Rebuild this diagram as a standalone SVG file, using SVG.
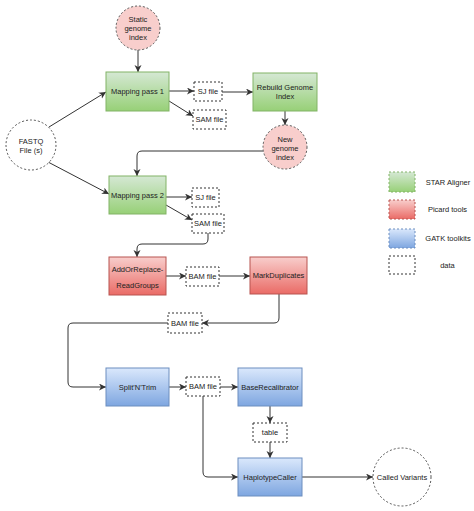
<svg xmlns="http://www.w3.org/2000/svg" width="474" height="511" viewBox="0 0 474 511">
<style>
text{font-family:"Liberation Sans",Arial,sans-serif;font-size:7.5px;fill:#222;text-anchor:middle;dominant-baseline:central}
.g{fill:url(#gg);stroke:#82b366;stroke-width:1}
.r{fill:url(#gr);stroke:#b85450;stroke-width:1}
.b{fill:url(#gb);stroke:#6c8ebf;stroke-width:1}
.d{fill:#fff;stroke:#333;stroke-width:1;stroke-dasharray:2,2}
.pc{fill:#f8cecc;stroke:#555;stroke-width:1;stroke-dasharray:2,2}
.wc{fill:#fff;stroke:#555;stroke-width:1;stroke-dasharray:2,2}
.c path{fill:none;stroke:#333;stroke-width:1;marker-end:url(#ah)}
.leg{stroke-dasharray:2,2}
</style>
<defs>
<linearGradient id="gg" x1="0" y1="0" x2="0" y2="1"><stop offset="0" stop-color="#d5e8d4"/><stop offset="1" stop-color="#97d077"/></linearGradient>
<linearGradient id="gr" x1="0" y1="0" x2="0" y2="1"><stop offset="0" stop-color="#f8cecc"/><stop offset="1" stop-color="#ea6b66"/></linearGradient>
<linearGradient id="gb" x1="0" y1="0" x2="0" y2="1"><stop offset="0" stop-color="#dae8fc"/><stop offset="1" stop-color="#7ea6e0"/></linearGradient>
<marker id="ah" markerUnits="userSpaceOnUse" markerWidth="8" markerHeight="8" refX="7" refY="3.5" orient="auto"><path d="M0,0 L7,3.5 L0,7 L2,3.5 z" fill="#333"/></marker>
</defs>
<rect width="474" height="511" fill="#fff"/>
<g class="c" id="connectors">
<path d="M138,50 V72"/>
<path d="M49,127 L106,92"/>
<path d="M48,162 L109,194"/>
<path d="M169,91 H194"/>
<path d="M169,101 L193,116"/>
<path d="M222,92 H253"/>
<path d="M285,111 V125"/>
<path d="M263,151 H142 Q137,151 137,156 V176"/>
<path d="M166,197 H192"/>
<path d="M166,205 L192,220"/>
<path d="M208,233 V239 Q208,244 203,244 H142 Q137,244 137,249 V257"/>
<path d="M166,276 H186"/>
<path d="M219,276 H250"/>
<path d="M279,294 V318 Q279,323 274,323 H202"/>
<path d="M168,323 H73 Q68,323 68,328 V382 Q68,387 73,387 H106"/>
<path d="M169,387 H186"/>
<path d="M220,387 H238"/>
<path d="M270,406 V423"/>
<path d="M270,442 V458"/>
<path d="M203,396 V472 Q203,477 208,477 H238"/>
<path d="M302,477 H373"/>
</g>
<g id="static-index"><circle class="pc" cx="138" cy="28" r="22"/><text x="138" y="19">Static</text><text x="138" y="28">genome</text><text x="138" y="37">index</text></g>
<g id="fastq"><circle class="wc" cx="31" cy="145" r="25"/><text x="31" y="141">FASTQ</text><text x="31" y="150">File (s)</text></g>
<g id="mapping1"><rect class="g" x="106" y="72" width="63" height="39"/><text x="137.5" y="91.5">Mapping pass 1</text></g>
<g id="sj1"><rect class="d" x="194" y="82" width="28" height="19"/><text x="208" y="91.5">SJ file</text></g>
<g id="sam1"><rect class="d" x="193" y="110" width="33" height="19"/><text x="209.5" y="119.5">SAM file</text></g>
<g id="rebuild"><rect class="g" x="253" y="73" width="64" height="38"/><text x="285" y="87">Rebuild Genome</text><text x="285" y="96">Index</text></g>
<g id="new-index"><circle class="pc" cx="285" cy="147" r="22"/><text x="285" y="139">New</text><text x="285" y="148">genome</text><text x="285" y="157">index</text></g>
<g id="mapping2"><rect class="g" x="109" y="176" width="57" height="38"/><text x="137.5" y="195">Mapping pass 2</text></g>
<g id="sj2"><rect class="d" x="192" y="188" width="27" height="19"/><text x="205.5" y="197.5">SJ file</text></g>
<g id="sam2"><rect class="d" x="192" y="214" width="32" height="19"/><text x="208" y="223.5">SAM file</text></g>
<g id="addorreplace"><rect class="r" x="109" y="257" width="57" height="38"/><text x="137.5" y="269">AddOrReplace-</text><text x="137.5" y="285">ReadGroups</text></g>
<g id="bam1"><rect class="d" x="186" y="267" width="33" height="19"/><text x="202.5" y="276.5">BAM file</text></g>
<g id="markdup"><rect class="r" x="250" y="257" width="57" height="37"/><text x="278.5" y="275.5">MarkDuplicates</text></g>
<g id="bam2"><rect class="d" x="168" y="313" width="34" height="20"/><text x="185" y="323">BAM file</text></g>
<g id="splitntrim"><rect class="b" x="106" y="368" width="63" height="38"/><text x="137.5" y="387">Split'N'Trim</text></g>
<g id="bam3"><rect class="d" x="186" y="377" width="34" height="19"/><text x="203" y="386.5">BAM file</text></g>
<g id="baserecal"><rect class="b" x="238" y="368" width="64" height="38"/><text x="270" y="387">BaseRecalibrator</text></g>
<g id="table"><rect class="d" x="253" y="423" width="34" height="19"/><text x="270" y="432.5">table</text></g>
<g id="haplotype"><rect class="b" x="238" y="458" width="64" height="38"/><text x="270" y="477">HaplotypeCaller</text></g>
<g id="called"><circle class="wc" cx="402" cy="477" r="29"/><text x="402" y="477">Called Variants</text></g>
<g id="legend">
<rect class="g leg" x="389" y="172" width="26" height="20"/><text x="448" y="182">STAR Aligner</text>
<rect class="r leg" x="389" y="200" width="26" height="19"/><text x="447.5" y="209.5">Picard tools</text>
<rect class="b leg" x="389" y="229" width="26" height="19"/><text x="448" y="238.5">GATK toolkits</text>
<rect class="d" x="389" y="256" width="26" height="18"/><text x="447.5" y="265">data</text>
</g>
</svg>
